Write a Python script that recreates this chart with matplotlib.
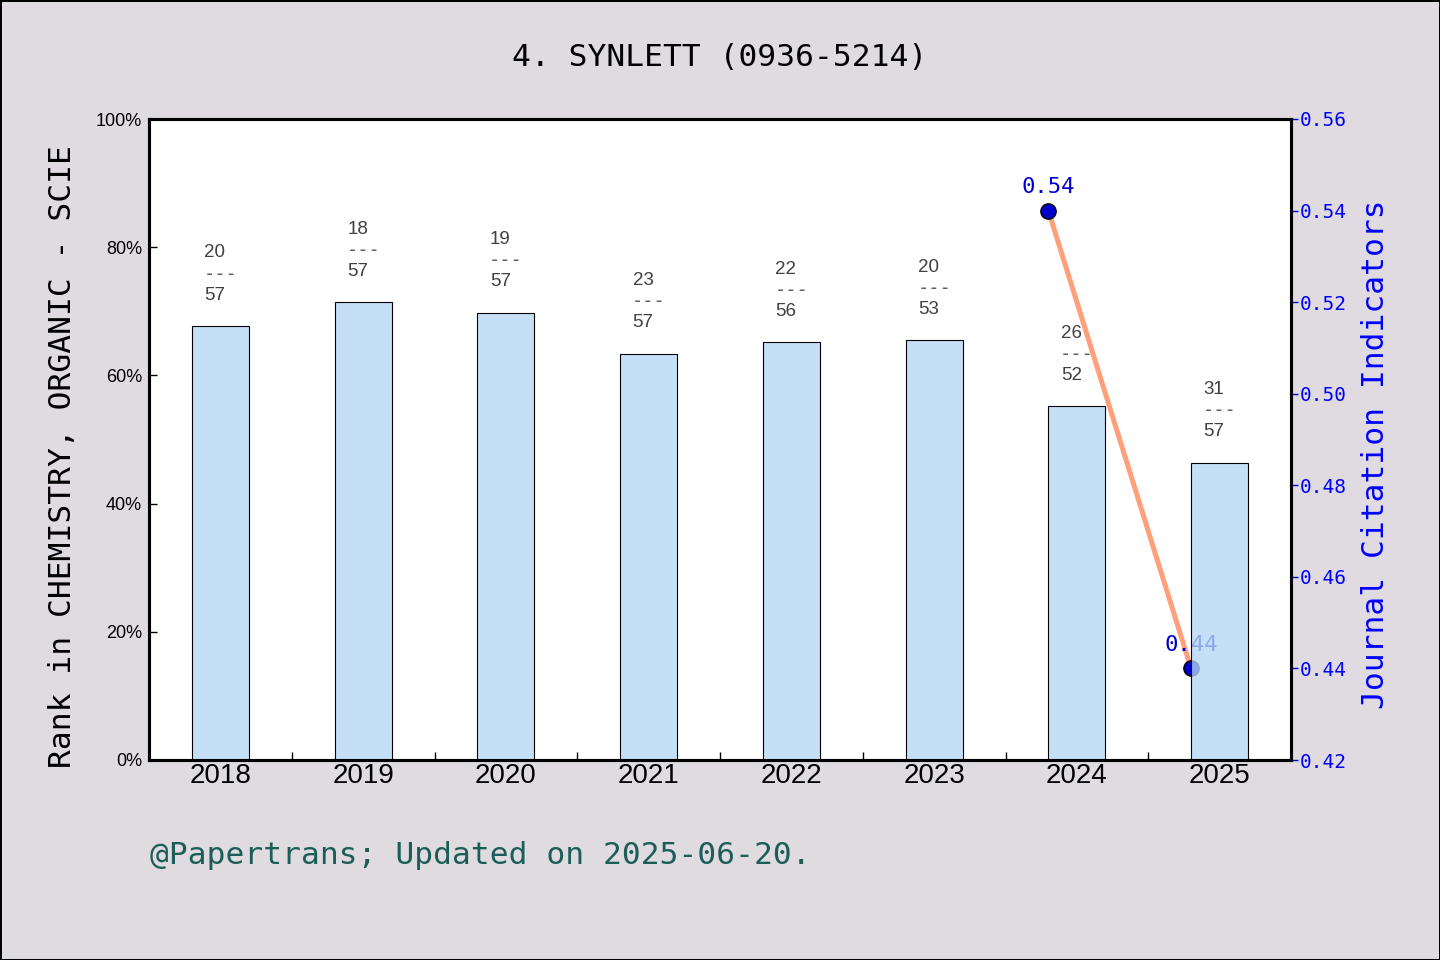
import numpy as np
import matplotlib
matplotlib.use("Agg")
import matplotlib.pyplot as plt
from matplotlib.ticker import FixedLocator, PercentFormatter

years = ["2018", "2019", "2020", "2021", "2022", "2023", "2024", "2025"]
rank_pct = [67.7, 71.4, 69.8, 63.4, 65.2, 65.5, 55.2, 46.4]
ranks = [20, 18, 19, 23, 22, 20, 26, 31]
totals = [57, 57, 57, 57, 56, 53, 52, 57]
jci_years = ["2024", "2025"]
jci_values = [0.54, 0.44]

BG = "#DFDBE1"
MONO = "DejaVu Sans Mono"
SANS = "Liberation Sans"

fig = plt.figure(figsize=(14.4, 9.6), dpi=100, facecolor=BG, edgecolor="black", linewidth=2)
ax = fig.add_axes([149 / 1440, 1 - 760 / 960, (1291 - 149) / 1440, (760 - 119) / 960])
ax2 = ax.twinx()
# bars sit above the line axis (they cover the 2025 point), so lift the main axes
ax.set_zorder(ax2.get_zorder() + 1)
ax.patch.set_visible(False)
ax2.patch.set_facecolor("white")
ax2.patch.set_visible(True)

x = np.arange(len(years))
ax.bar(x, rank_pct, width=0.4, facecolor=(181 / 255, 215 / 255, 245 / 255, 0.78),
       edgecolor="black", linewidth=0.8, zorder=2)
ax.set_xlim(-0.5, len(years) - 0.5)
ax.set_ylim(0, 100)
ax.yaxis.set_major_locator(FixedLocator([0, 20, 40, 60, 80, 100]))
ax.yaxis.set_major_formatter(PercentFormatter(decimals=0))
ax.set_xticks(x)
ax.set_xticklabels(years, fontfamily=SANS, fontsize=20)
ax.set_xticks(np.arange(0.5, len(years) - 0.5, 1), minor=True)
ax.tick_params(axis="x", which="major", length=0, pad=2)
ax.tick_params(axis="x", which="minor", direction="in", length=6, width=1)
ax.tick_params(axis="y", direction="in", length=6, width=1, pad=5, labelsize=13)
for lab in ax.get_yticklabels():
    lab.set_fontfamily(SANS)

# rank labels drawn on the lower axes so the JCI line passes over them
for i, (r, t) in enumerate(zip(ranks, totals)):
    kw = dict(xycoords=ax.transData, textcoords="offset points", ha="left", va="center")
    ax2.annotate(str(r), (i, rank_pct[i]), xytext=(-11.5, 52.6),
                 fontfamily=SANS, fontsize=13.5, color="#404040", **kw)
    ax2.annotate("---", (i, rank_pct[i]), xytext=(-12, 37.4),
                 fontfamily=MONO, fontsize=13.5, color="#606060", **kw)
    ax2.annotate(str(t), (i, rank_pct[i]), xytext=(-11.5, 22.3),
                 fontfamily=SANS, fontsize=13.5, color="#404040", **kw)

jx = [years.index(y) - 0.2 for y in jci_years]
ax2.plot(jx, jci_values, color="#FFA07A", linewidth=3.6, zorder=2)
ax2.plot(jx, jci_values, "o", color="#0000CD", markeredgecolor="black",
         markeredgewidth=1, markersize=11, zorder=3)
for xi, v in zip(jx, jci_values):
    ax2.annotate(f"{v:.2f}", (xi, v), xytext=(0, 10), textcoords="offset points",
                 ha="center", va="bottom", fontfamily=MONO, fontsize=16, color="#0000CD")
ax2.set_ylim(0.42, 0.56)
ax2.set_yticks(np.arange(0.42, 0.5601, 0.02))
ax2.set_yticklabels([f"{v:.2f}" for v in np.arange(0.42, 0.5601, 0.02)],
                    fontfamily=MONO, fontsize=14, color="blue")
ax2.tick_params(axis="y", direction="out", length=5, width=1, pad=1, colors="blue")

for a in (ax, ax2):
    for s in a.spines.values():
        s.set_linewidth(2.2)
        s.set_color("black")

fig.text(0.5, 1 - 57 / 960, "4. SYNLETT (0936-5214)", ha="center", va="center",
         fontfamily=MONO, fontsize=22.5, color="black")
fig.text(63 / 1440, 1 - 457 / 960, "Rank in CHEMISTRY, ORGANIC - SCIE", rotation=90,
         ha="center", va="center", fontfamily=MONO, fontsize=22.5, color="black")
fig.text(1375 / 1440, 1 - 454 / 960, "Journal Citation Indicators", rotation=90,
         ha="center", va="center", fontfamily=MONO, fontsize=22.5, color="blue")
fig.text(150 / 1440, 1 - 855 / 960, "@Papertrans; Updated on 2025-06-20.",
         ha="left", va="center", fontfamily=MONO, fontsize=22.5, color="#1B5E55")

fig.savefig("out.png", dpi=100, facecolor=BG, edgecolor="black")
